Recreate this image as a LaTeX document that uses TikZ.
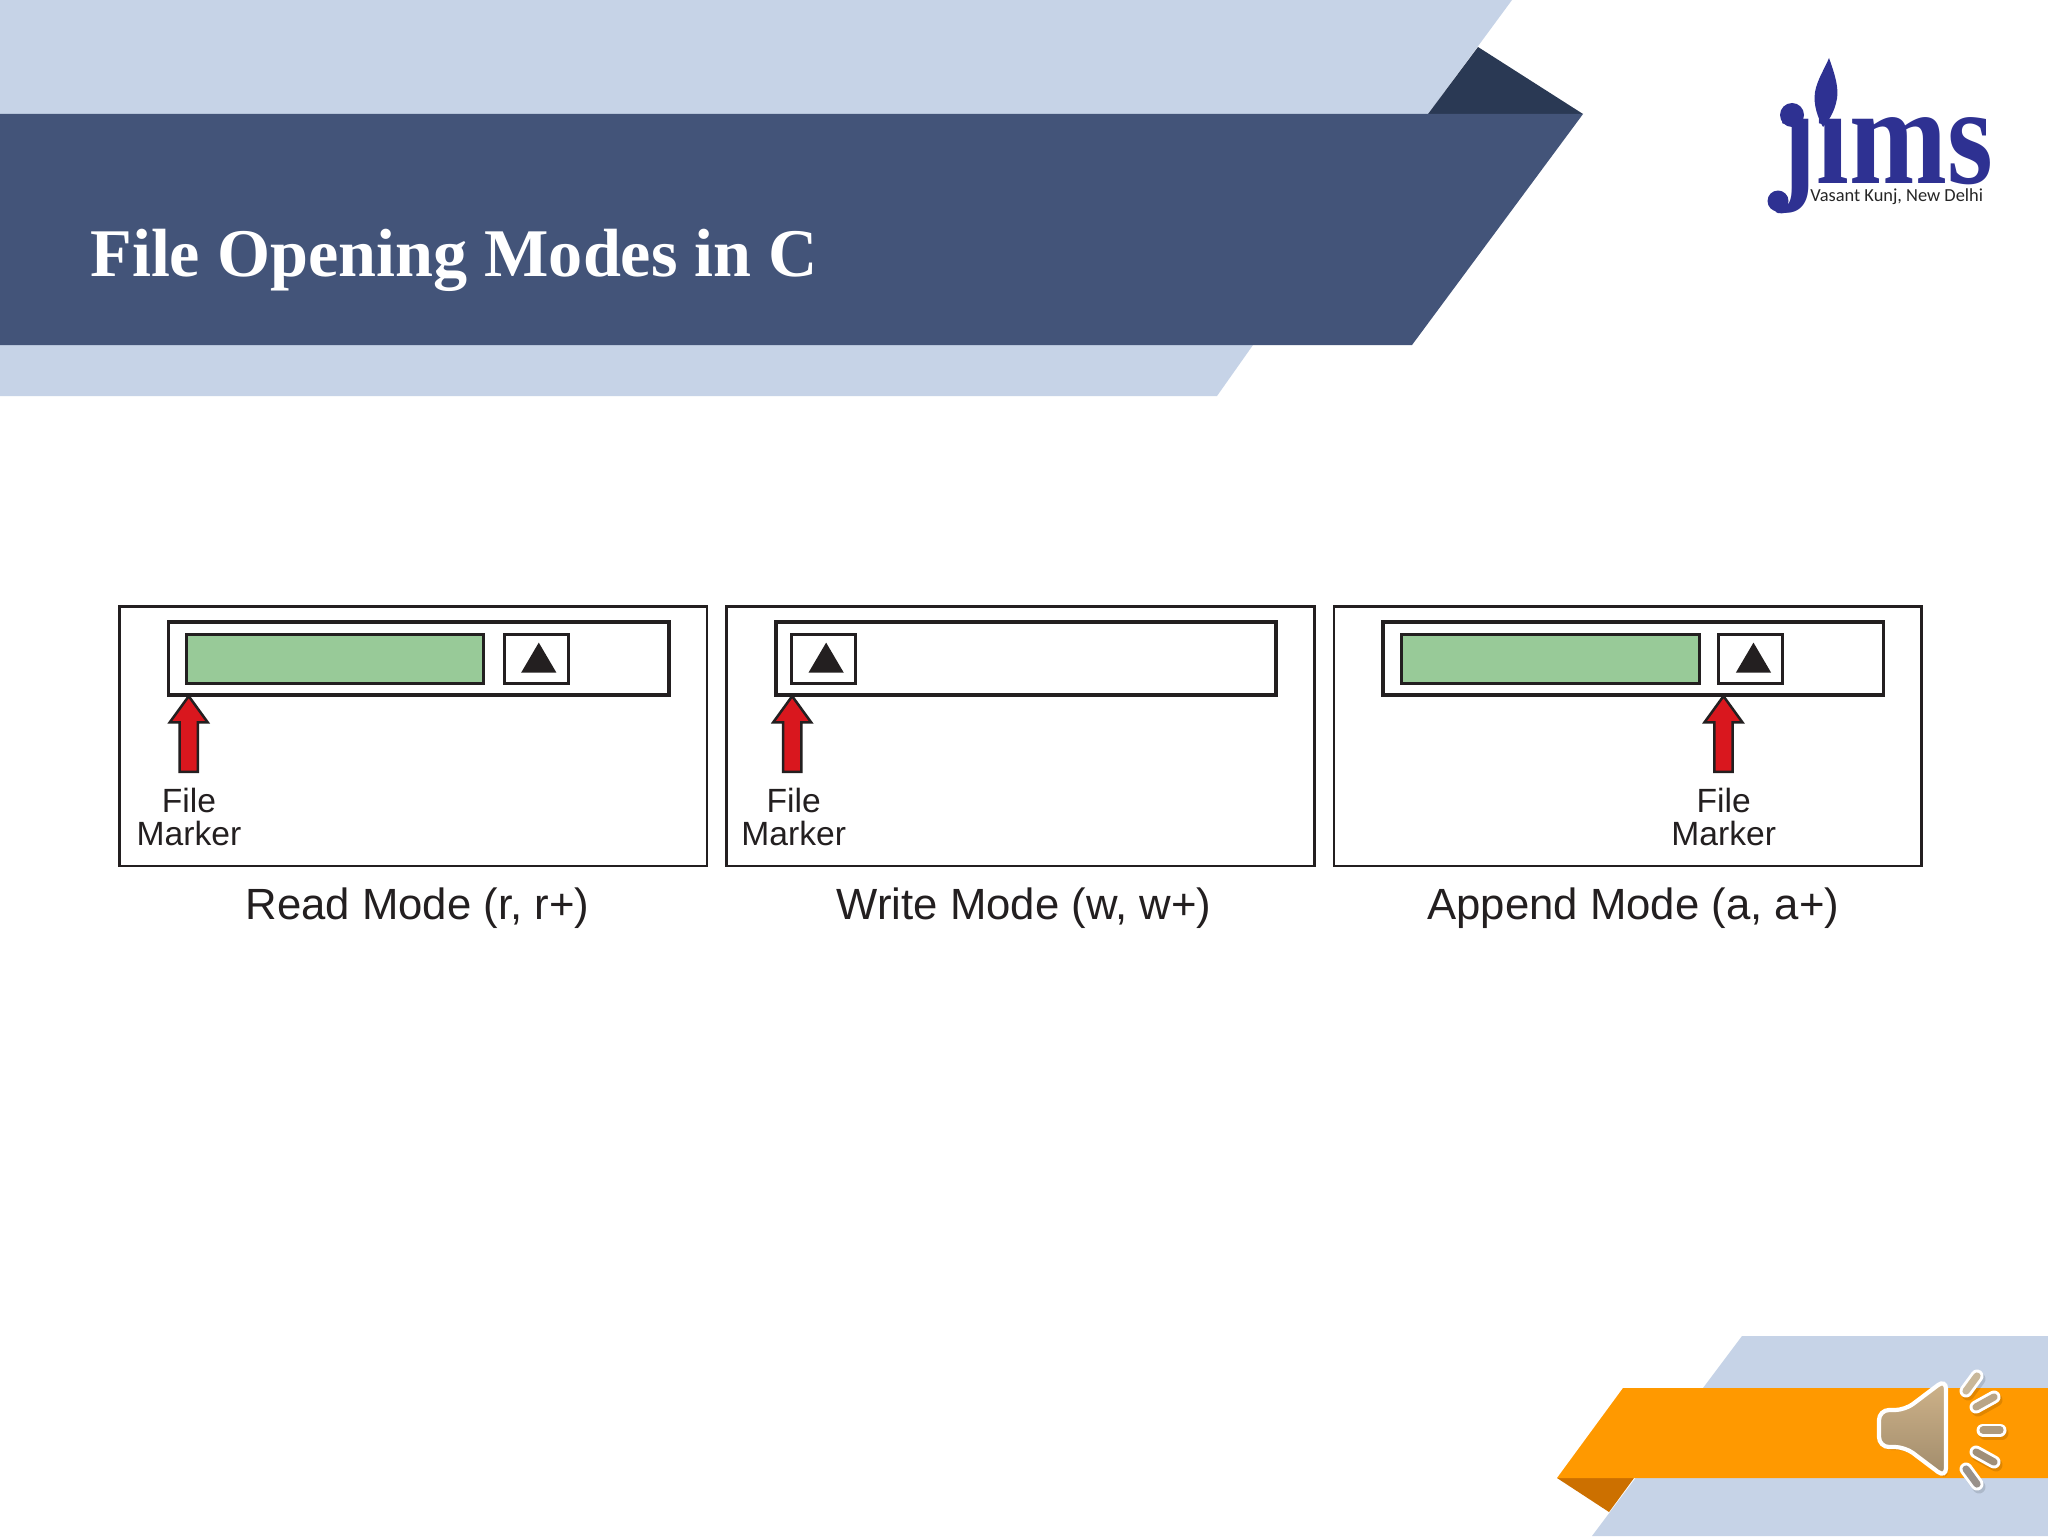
\documentclass[tikz,border=0pt]{standalone}
\usepackage{fontspec}
\setmainfont{Liberation Sans}
\newfontfamily\titlefont{Liberation Serif}
\newfontfamily\logofont{Carlito}
\definecolor{lightband}{HTML}{C6D3E7}
\definecolor{mainband}{HTML}{435479}
\definecolor{foldband}{HTML}{2A3954}
\definecolor{orangeband}{HTML}{FF9900}
\definecolor{orangefold}{HTML}{CC7000}
\definecolor{greenfill}{HTML}{98CA98}
\definecolor{inkline}{HTML}{231F20}
\definecolor{arrowred}{HTML}{D9171E}
\definecolor{logoblue}{HTML}{2E3192}
\definecolor{speakertop}{HTML}{CFB38A}
\definecolor{speakerbot}{HTML}{A08B6B}
\tikzset{
  outerbox/.style={draw=inkline,line width=1.25pt,fill=white},
  innerbox/.style={draw=inkline,line width=1.9pt,fill=white},
  databox/.style={draw=inkline,line width=1.5pt,fill=greenfill},
  eofbox/.style={draw=inkline,line width=1.5pt,fill=white},
  tritip/.style={fill=inkline},
  markerarrow/.style={draw=inkline,line width=1.25pt,fill=arrowred,line join=miter},
  markerlabel/.style={text=inkline,font=\fontsize{16.8}{17}\selectfont,align=center,inner sep=0pt},
  caption/.style={text=inkline,font=\fontsize{21.85}{24}\selectfont,inner sep=0pt},
  speakerbar/.style={line cap=round,line width=6.5pt,white},
}
\newcommand{\markerat}[3]{% x centre, label x, name
  \draw[markerarrow] (#1,533) -- (#1+14.5,553) -- (#1+7,553) -- (#1+7,591) -- (#1-7,591) -- (#1-7,553) -- (#1-14.5,553) -- cycle;
  \node[markerlabel] (#3) at (#2,625.2) {File\\[-0.4pt]Marker};
}
\newcommand{\trianglein}[1]{% left x
  \fill[tritip] (#1,515) -- (#1+27,515) -- (#1+13.5,492) -- cycle;
}
\begin{document}
\begin{tikzpicture}[x=0.5pt,y=-0.5pt]
\useasboundingbox (0,0) rectangle (2048,1536);
\fill[white] (0,0) rectangle (2048,1536);
% top banner
\fill[lightband] (0,0) -- (1512,0) -- (1428,114) -- (0,114) -- cycle;
\fill[lightband] (0,345) -- (1253,345) -- (1217,396) -- (0,396) -- cycle;
\fill[foldband] (1428,114) -- (1478,47) -- (1583,114) -- cycle;
\fill[mainband] (0,114) -- (1583,114) -- (1412,345) -- (0,345) -- cycle;
\node[anchor=base west,inner sep=0pt,text=white,font=\titlefont\bfseries\fontsize{34.1}{40}\selectfont] (title) at (90,276) {File Opening Modes in C};
% logo
\fill[logoblue] (1829,58) .. controls (1835,75) and (1840,90) .. (1836,103) .. controls (1834,112) and (1828,122) .. (1823,127) .. controls (1818,118) and (1813,105) .. (1815,92) .. controls (1817,80) and (1825,68) .. (1829,58) -- cycle;
\fill[logoblue] (1792,115) circle (12);
\node[anchor=base west,inner sep=0pt,text=logoblue,xscale=0.84,transform shape,font=\titlefont\bfseries\fontsize{70}{70}\selectfont] (jims) at (1777,183) {\smash{ȷıms}};
\draw[logoblue,line width=3pt,line cap=round] (1796,190) .. controls (1796,205) and (1788,212) .. (1778,210);
\fill[logoblue] (1778,201) circle (10.5);
\node[anchor=base west,inner sep=0pt,text=black!85,font=\logofont\fontsize{9.2}{10}\selectfont] (place) at (1810,201) {Vasant Kunj, New Delhi};
% footer band
\fill[lightband] (1742,1336) -- (2048,1336) -- (2048,1536) -- (1592,1536) -- cycle;
\fill[orangefold] (1557,1478) -- (1634,1478) -- (1609,1512) -- cycle;
\fill[orangeband] (1623,1388) -- (2048,1388) -- (2048,1478) -- (1557,1478) -- cycle;
% speaker
\fill[black,opacity=.12,rounded corners=5pt] (1881,1413) -- (1907,1413) -- (1948,1382) -- (1948,1481) -- (1907,1450) -- (1881,1450) -- cycle;
\draw[white,line width=2.1pt,rounded corners=5pt,top color=speakertop,bottom color=speakerbot] (1879,1410) -- (1905,1410) -- (1946,1379) -- (1946,1478) -- (1905,1447) -- (1879,1447) -- cycle;
\foreach \a/\b/\c/\d/\e in {1966/1391/1977/1376/C9B89A,1976/1407/1994/1397/B9A587,1983/1430/2000/1430/AD9A7E,1976/1452/1994/1462/A08F78,1966/1469/1977/1484/99918A}{
  \draw[line cap=round,line width=6.5pt,black,opacity=.12] (\a+2,\b+3) -- (\c+2,\d+3);
  \draw[speakerbar] (\a,\b) -- (\c,\d);
  \definecolor{barcol}{HTML}{\e}
  \draw[line cap=round,line width=3.6pt,barcol] (\a,\b) -- (\c,\d);
}
% panels (displayed-pixel coordinates)
\begin{scope}[x=0.65306pt,y=-0.65306pt]
  \draw[outerbox] (91.3,464.2) rectangle (541.3,663.2);
  \draw[outerbox] (556.3,464.2) rectangle (1006.3,663.2);
  \draw[outerbox] (1021.3,464.2) rectangle (1471.3,663.2);
  \draw[innerbox] (129,476) rectangle (512,532);
  \draw[innerbox] (594,476) rectangle (977,532);
  \draw[innerbox] (1059,476) rectangle (1442,532);
  \draw[databox] (143,486) rectangle (370,523);
  \draw[eofbox] (386,486) rectangle (435,523);
  \trianglein{399}
  \draw[eofbox] (606,486) rectangle (655,523);
  \trianglein{619}
  \draw[databox] (1073,486) rectangle (1301,523);
  \draw[eofbox] (1316,486) rectangle (1365,523);
  \trianglein{1329}
  \markerat{144.5}{144.7}{ma}
  \markerat{606.5}{607.7}{mb}
  \markerat{1319.5}{1319.7}{mc}
  \node[caption] (capa) at (319.5,695) {Read Mode (r, r+)};
  \node[caption] (capb) at (784,695) {Write Mode (w, w+)};
  \node[caption] (capc) at (1250.5,695) {Append Mode (a, a+)};
\end{scope}
\end{tikzpicture}
\end{document}
